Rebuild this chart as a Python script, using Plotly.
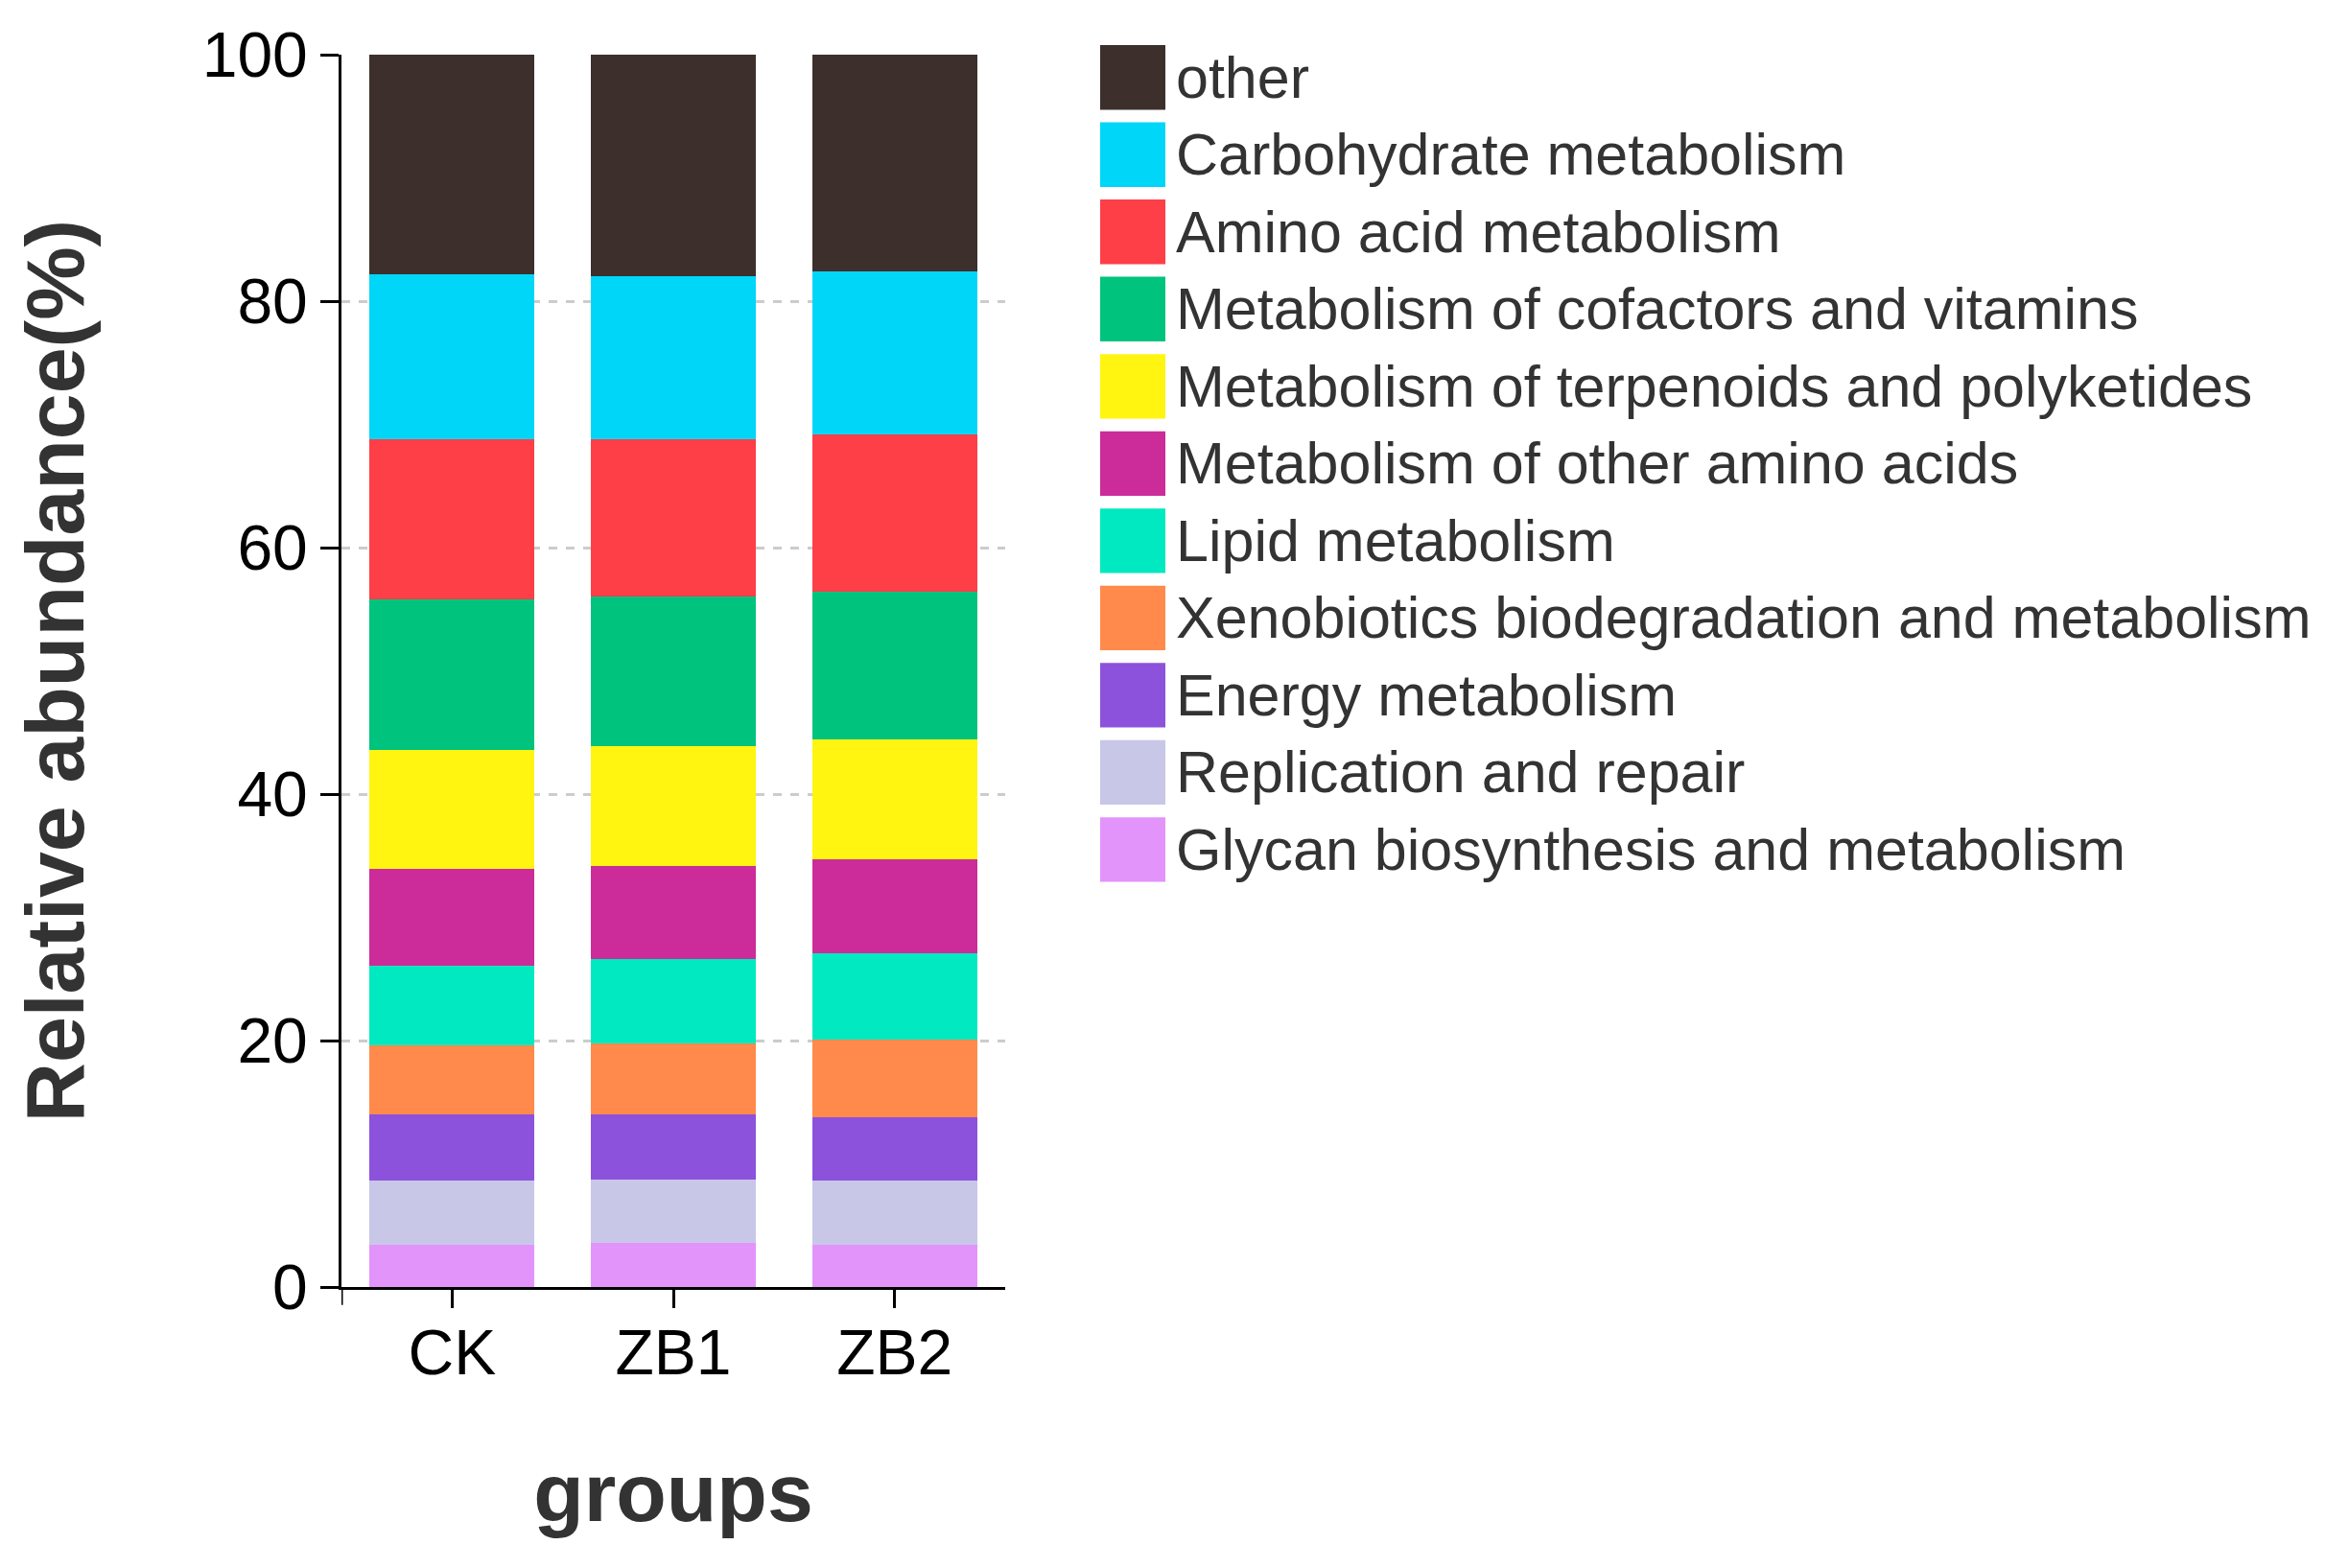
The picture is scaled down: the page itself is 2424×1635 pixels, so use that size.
import plotly.graph_objects as go

groups = ["CK", "ZB1", "ZB2"]

# stacked from the bottom up
pathways = [
    "Glycan biosynthesis and metabolism",
    "Replication and repair",
    "Energy metabolism",
    "Xenobiotics biodegradation and metabolism",
    "Lipid metabolism",
    "Metabolism of other amino acids",
    "Metabolism of terpenoids and polyketides",
    "Metabolism of cofactors and vitamins",
    "Amino acid metabolism",
    "Carbohydrate metabolism",
    "other",
]

glycan = [3.4, 3.6, 3.4]
replication = [5.2, 5.1, 5.2]
energy = [5.4, 5.3, 5.2]
xenobiotics = [5.6, 5.8, 6.3]
lipid = [6.5, 6.8, 7.0]
other_amino = [7.8, 7.6, 7.6]
terpenoids = [9.7, 9.7, 9.7]
cofactors = [12.2, 12.1, 12.0]
amino_acid = [13.0, 12.8, 12.8]
carbohydrate = [13.35, 13.2, 13.2]
other = [17.85, 18.0, 17.6]

values = [glycan, replication, energy, xenobiotics, lipid, other_amino,
          terpenoids, cofactors, amino_acid, carbohydrate, other]

colors = ["#E294FB", "#C8C7E8", "#8D52DB", "#FF8A4C", "#00E9C0", "#CC2C99",
          "#FFF510", "#00C37D", "#FE3F48", "#00D6F7", "#3C2F2C"]

font = "Liberation Sans, Arial, sans-serif"

fig = go.Figure()
for name, vals, col in zip(pathways, values, colors):
    fig.add_trace(go.Bar(x=groups, y=vals, name=name, marker_color=col,
                         marker_line_width=0, showlegend=False))

# plot area in pixels
left, right, top, bottom = 348, 1040, 38, 1334
plot_h = bottom - top
plot_w = right - left

# hand-made legend with big square swatches
shapes = []
annotations = []
for i, (name, col) in enumerate(zip(pathways[::-1], colors[::-1])):
    cy = 62 + 81.2 * i
    y0 = (bottom - (cy + 34)) / plot_h
    y1 = (bottom - (cy - 34)) / plot_h
    x0 = (1139 - left) / plot_w
    x1 = (1207 - left) / plot_w
    shapes.append(dict(type="rect", xref="paper", yref="paper", x0=x0, x1=x1,
                       y0=y0, y1=y1, fillcolor=col, line_width=0))
    annotations.append(dict(xref="paper", yref="paper", x=(1216 - left) / plot_w,
                            y=(bottom - cy) / plot_h, text=name, showarrow=False,
                            xanchor="left", yanchor="middle",
                            font=dict(family=font, size=61, color="#333333")))

# extra tick at the left end of the x axis
shapes.append(dict(type="line", xref="x", yref="paper", x0=-0.5, x1=-0.5,
                   y0=0, y1=-19 / plot_h, line=dict(color="black", width=3)))

fig.update_layout(
    barmode="stack",
    bargap=0.254,
    width=2424,
    height=1635,
    margin=dict(l=left, r=2424 - right, t=top, b=1635 - bottom),
    plot_bgcolor="white",
    paper_bgcolor="white",
    font=dict(family=font),
    shapes=shapes,
    annotations=annotations,
)

fig.update_xaxes(
    range=[-0.5, 2.5],
    showline=True, linecolor="black", linewidth=3,
    ticks="outside", ticklen=19, tickwidth=3, tickcolor="black",
    tickfont=dict(size=66, color="black"),
    ticklabelstandoff=-10,
    title=dict(text="<b>groups</b>", font=dict(size=86, color="#333333"), standoff=80),
    showgrid=False,
)

fig.update_yaxes(
    range=[0, 100],
    tickvals=[0, 20, 40, 60, 80, 100],
    showline=True, linecolor="black", linewidth=3,
    ticks="outside", ticklen=19, tickwidth=3, tickcolor="black",
    tickfont=dict(size=66, color="black"),
    title=dict(text="<b>Relative abundance(%)</b>", font=dict(size=86, color="#333333"), standoff=95),
    showgrid=True, gridcolor="#cccccc", gridwidth=3, griddash="dash",
    zeroline=False,
)

fig.write_html("out.html")
